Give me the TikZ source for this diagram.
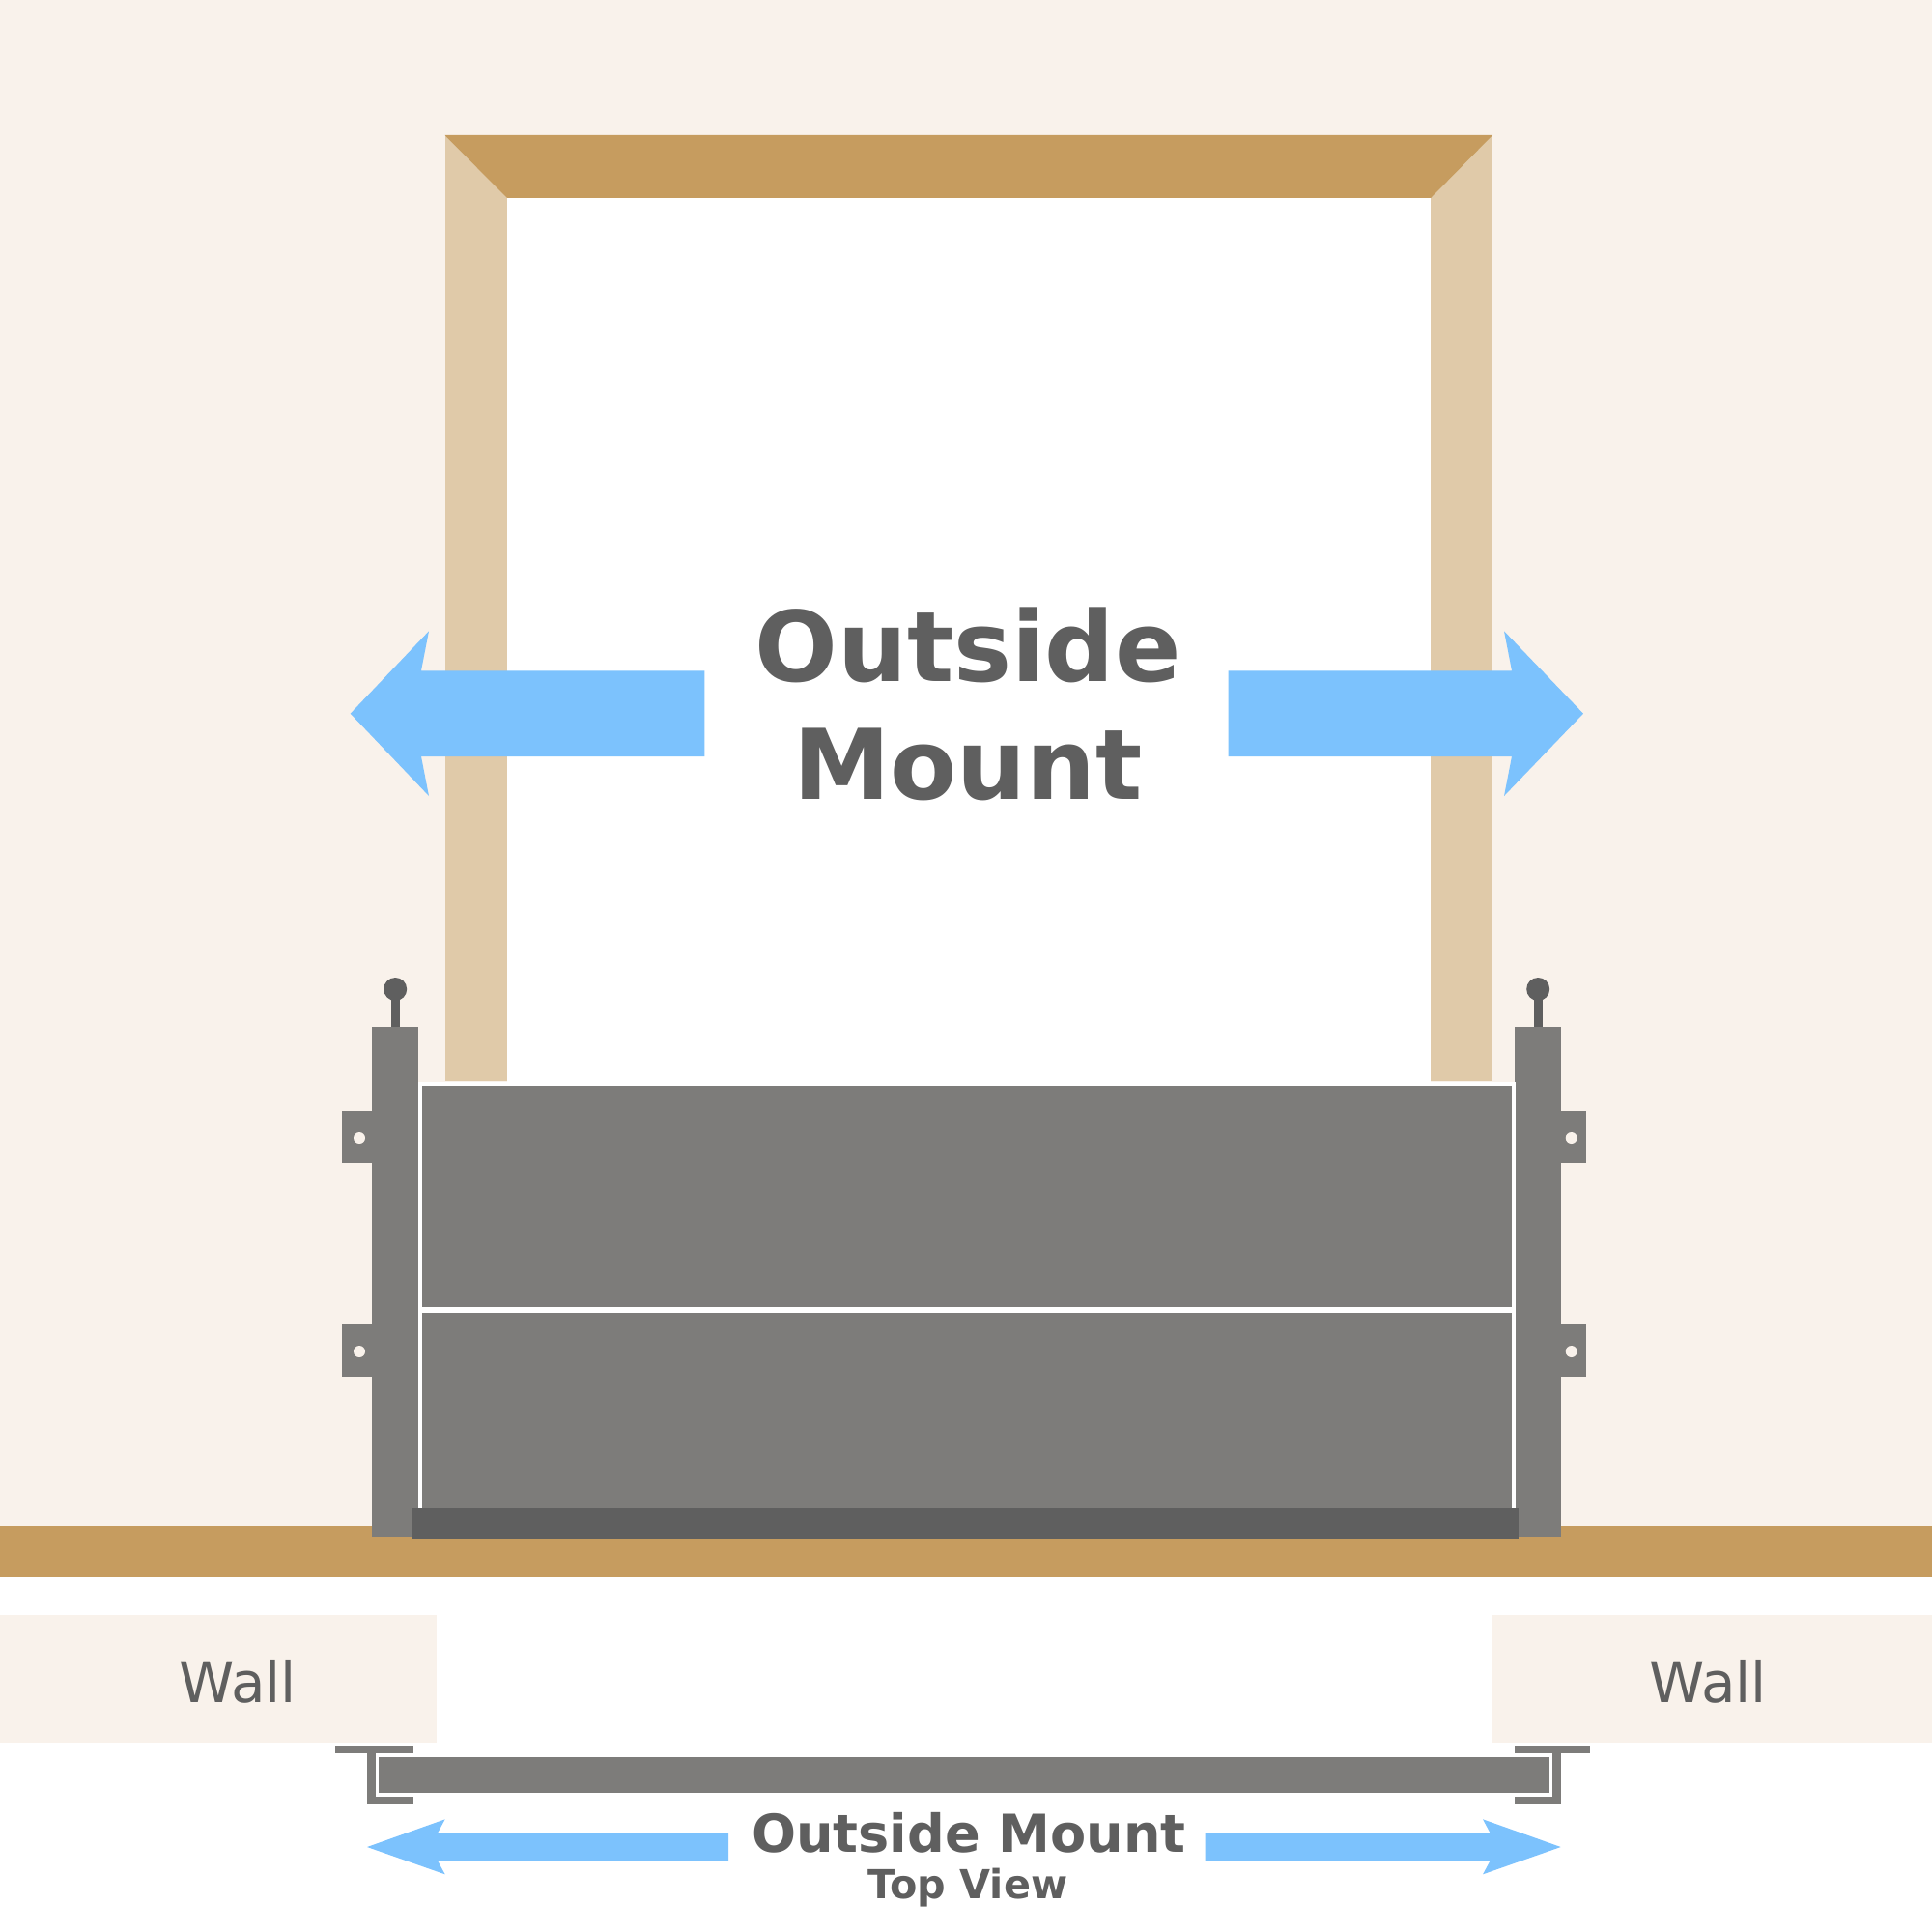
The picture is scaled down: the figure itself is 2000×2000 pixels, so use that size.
\documentclass[tikz,border=0pt]{standalone}
\usepackage{fontspec}
\setmainfont{DejaVu Sans}
\definecolor{wallcol}{HTML}{F9F2EB}
\definecolor{woodcol}{HTML}{C69C5F}
\definecolor{framecol}{HTML}{E0CAA9}
\definecolor{railcol}{HTML}{7D7C7A}
\definecolor{darkcol}{HTML}{5F5F5F}
\definecolor{arrowcol}{HTML}{7CC2FD}
\tikzset{
    titletext/.style={anchor=base,text=darkcol,font=\bfseries\fontsize{28.7}{34}\selectfont},
    subtext/.style={anchor=base,text=darkcol,font=\bfseries\fontsize{15.4}{18}\selectfont},
    smalltext/.style={anchor=base,text=darkcol,font=\bfseries\fontsize{11.75}{14}\selectfont},
    walltext/.style={anchor=base,text=darkcol,font=\fontsize{16.5}{18}\selectfont}
}
\begin{document}
\begin{tikzpicture}[x=0.01cm,y=-0.01cm]
    \useasboundingbox (0,0) rectangle (2000,2000);

    % Wand und Boden
    \fill[wallcol] (0,0) rectangle (2000,1580);
    \fill[woodcol] (0,1580) rectangle (2000,1632);

    % Fensterrahmen
    \fill[framecol] (460.5,140) rectangle (1545,1119);
    \fill[white] (525,205) rectangle (1481,1125);
    \fill[woodcol] (460.5,140) -- (1545,140) -- (1481,205) -- (525,205) -- cycle;

    % Pfeile oben
    \fill[arrowcol] (362.7,738.7) -- (444,653.3) -- (436,694.3) -- (729.3,694.3)
        -- (729.3,783) -- (436,783) -- (444,824) -- cycle;
    \fill[arrowcol] (1639,738.7) -- (1557,653.3) -- (1565,694.3) -- (1271.7,694.3)
        -- (1271.7,783) -- (1565,783) -- (1557,824) -- cycle;
    \node[titletext] (outside) at (1002,705.5) {Outside};
    \node[titletext] (mount) at (1002,827) {Mount};

    % Schienen, Griffe und Halter
    \foreach \x/\b/\h in {385.3/354/372, 1568.3/1642.3/1626.7} {
        \fill[darkcol] (\x+19.4,1035) rectangle (\x+28.4,1064);
        \fill[darkcol] (\x+23.9,1024) circle (12);
        \fill[railcol] (\x,1062.7) rectangle (\x+47.5,1590.7);
        \foreach \y in {1150,1371} {
            \fill[railcol] (\b,\y) rectangle (\x+20,\y+54);
            \fill[wallcol] (\h,\y+28) circle (6);
        }
    }

    % Rollladen
    \foreach \y/\e in {1121.5/1355, 1357/1570} {
        \draw[white,line width=0.04cm,fill=railcol] (434.5,\y) rectangle (1566.5,\e);
    }
    \fill[darkcol] (427.3,1561) rectangle (1572,1593);

    % Draufsicht
    \fill[wallcol] (0,1672) rectangle (452,1804);
    \fill[wallcol] (1545,1672) rectangle (2000,1804);
    \node[walltext] (wallleft) at (246,1762) {Wall};
    \node[walltext] (wallright) at (1768,1762) {Wall};

    \fill[railcol] (346.7,1806.7) rectangle (427.7,1815);
    \fill[railcol] (380,1806.7) rectangle (389,1868);
    \fill[railcol] (380,1860) rectangle (427.7,1868);
    \fill[railcol] (1568.3,1806.7) rectangle (1645.7,1815);
    \fill[railcol] (1607.3,1806.7) rectangle (1616,1868);
    \fill[railcol] (1568.3,1860) rectangle (1616,1868);
    \draw[white,line width=0.035cm,fill=railcol] (390.5,1817) rectangle (1605.5,1858);

    % Pfeile unten
    \fill[arrowcol] (380,1912) -- (460.7,1883.3) -- (453.3,1897) -- (754,1897)
        -- (754,1926.7) -- (453.3,1926.7) -- (460.7,1940.3) -- cycle;
    \fill[arrowcol] (1615.7,1912) -- (1535,1883.3) -- (1542.3,1897) -- (1247.5,1897)
        -- (1247.5,1926.7) -- (1542.3,1926.7) -- (1535,1940.3) -- cycle;
    \node[subtext] (topmount) at (1003,1917) {Outside Mount};
    \node[smalltext] (topview) at (1002,1965) {Top View};
\end{tikzpicture}
\end{document}
